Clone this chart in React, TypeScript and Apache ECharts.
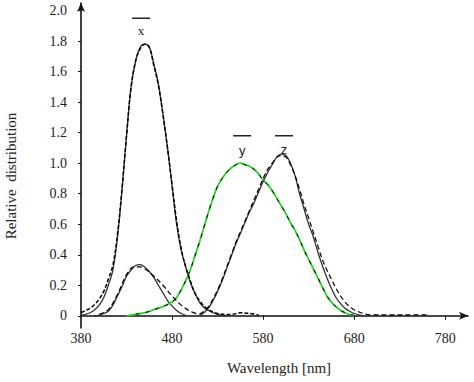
import React, { useEffect, useRef } from "react";
import * as echarts from "echarts";

// Tick values
const xTicks = [380, 480, 580, 680, 780];
const yTicks = [0, 0.2, 0.4, 0.6, 0.8, 1.0, 1.2, 1.4, 1.6, 1.8, 2.0];

// x-bar main lobe (solid) and its approximation (dashed)
const xMain = [[380,0.005],[385,0.01],[390,0.02],[395,0.04],[400,0.07],[405,0.12],[410,0.2],[415,0.3],[420,0.51],[425,0.82],[430,1.18],[435,1.5],[440,1.67],[445,1.76],[450,1.78],[455,1.76],[460,1.65],[465,1.52],[470,1.32],[475,1.1],[480,0.85],[485,0.6],[490,0.43],[495,0.32],[500,0.22],[505,0.15],[510,0.09],[515,0.055],[520,0.035],[525,0.02],[530,0.01],[540,0]];
const xMainFit = [[380,0.02],[385,0.035],[390,0.05],[395,0.075],[400,0.11],[405,0.16],[410,0.24],[415,0.33],[420,0.53],[425,0.83],[430,1.18],[435,1.5],[440,1.67],[445,1.75],[450,1.78],[455,1.76],[460,1.64],[465,1.51],[470,1.32],[475,1.1],[480,0.86],[485,0.62],[490,0.44],[495,0.32],[500,0.23],[505,0.15],[510,0.1],[515,0.065],[520,0.04],[530,0.015],[545,0.008],[555,0.02],[565,0.015],[575,0.005]];

// x-bar secondary lobe
const xSmall = [[395,0],[400,0.005],[405,0.015],[410,0.03],[415,0.07],[420,0.13],[425,0.19],[430,0.26],[435,0.3],[440,0.33],[445,0.335],[450,0.32],[455,0.29],[460,0.25],[465,0.2],[470,0.15],[475,0.1],[480,0.065],[485,0.035],[490,0.015],[496,0]];
const xSmallFit = [[400,0.01],[410,0.04],[420,0.14],[430,0.27],[438,0.32],[445,0.32],[452,0.3],[460,0.26],[470,0.2],[480,0.13],[490,0.07],[500,0.03],[510,0.008]];

// y-bar
const yBar = [[430,0],[440,0.01],[450,0.02],[460,0.04],[470,0.06],[480,0.09],[485,0.12],[490,0.17],[495,0.23],[500,0.3],[505,0.39],[510,0.48],[515,0.58],[520,0.68],[525,0.77],[530,0.85],[535,0.9],[540,0.94],[545,0.97],[550,0.99],[555,1.0],[560,0.99],[565,0.98],[570,0.96],[575,0.93],[580,0.89],[585,0.86],[590,0.82],[595,0.77],[600,0.72],[605,0.67],[610,0.61],[615,0.56],[620,0.5],[625,0.43],[630,0.37],[635,0.31],[640,0.25],[645,0.19],[650,0.13],[655,0.09],[660,0.06],[665,0.035],[670,0.02],[675,0.008],[680,0]];
const yBarFit = [[440,0.01],[450,0.02],[460,0.04],[470,0.06],[480,0.09],[485,0.12],[490,0.17],[495,0.23],[500,0.3],[505,0.39],[510,0.48],[515,0.58],[520,0.68],[525,0.77],[530,0.85],[535,0.9],[540,0.94],[545,0.97],[550,0.99],[555,1.0],[560,0.99],[565,0.98],[570,0.96],[575,0.93],[580,0.89],[585,0.86],[590,0.82],[595,0.77],[600,0.72],[605,0.67],[610,0.61],[615,0.56],[620,0.5],[625,0.43],[630,0.37],[635,0.31],[640,0.25],[645,0.19],[650,0.13],[655,0.09],[660,0.06],[665,0.035],[670,0.02],[675,0.01],[680,0.004]];

// z-bar
const zBar = [[510,0],[515,0.02],[520,0.05],[525,0.1],[530,0.16],[535,0.23],[540,0.31],[545,0.39],[550,0.47],[555,0.54],[560,0.61],[565,0.68],[570,0.74],[575,0.81],[580,0.88],[585,0.94],[590,0.99],[595,1.04],[600,1.06],[605,1.05],[610,1.0],[615,0.92],[620,0.8],[625,0.7],[630,0.6],[635,0.52],[640,0.42],[645,0.33],[650,0.25],[655,0.18],[660,0.12],[665,0.08],[670,0.05],[675,0.03],[680,0.015],[690,0]];
const zBarFit = [[510,0.01],[515,0.03],[520,0.06],[525,0.11],[530,0.17],[535,0.24],[540,0.32],[545,0.4],[550,0.48],[555,0.55],[560,0.62],[565,0.69],[570,0.76],[575,0.83],[580,0.9],[585,0.96],[590,1.0],[595,1.04],[600,1.05],[605,1.04],[610,0.99],[615,0.92],[620,0.83],[625,0.73],[630,0.64],[635,0.55],[640,0.46],[645,0.37],[650,0.3],[655,0.24],[660,0.18],[665,0.13],[670,0.09],[675,0.06],[680,0.04],[690,0.015],[700,0.006],[720,0.006],[740,0.006],[760,0.006]];

// curve labels (letter position and overbar height, in data units)
const labelNames = ["x", "y", "z"];
const labelPos = [[446, 1.87], [557, 1.085], [603, 1.09]];
const barPos = [[446, 1.95], [557, 1.18], [603, 1.18]];

const solid = (data: number[][], color = "#333", width = 1.3) => ({
  type: "line", data, smooth: 0.35, showSymbol: false, symbol: "none",
  lineStyle: { color, width }, z: 2,
});
const dashed = (data: number[][], width = 1.5, dash: number[] = [4, 2]) => ({
  type: "line", data, smooth: 0.35, showSymbol: false, symbol: "none",
  lineStyle: { color: "#000", width, type: dash }, z: 3,
});

export default function App() {
  const ref = useRef<HTMLDivElement>(null);
  useEffect(() => {
    if (!ref.current) return;
    const chart = echarts.init(ref.current, undefined, { renderer: "svg" });
    const serif = "'Liberation Serif', 'Times New Roman', serif";
    chart.setOption({
      animation: false,
      backgroundColor: "#fff",
      textStyle: { fontFamily: serif },
      grid: { left: 81, right: 6, top: 3, bottom: 54 },
      xAxis: {
        type: "value", min: 380, max: 805,
        axisLine: { show: true, onZero: true, lineStyle: { color: "#111", width: 1.6 }, symbol: ["none", "arrow"], symbolSize: [6, 9] },
        axisTick: { show: true, customValues: xTicks.slice(1), length: 4, lineStyle: { color: "#111" } },
        axisLabel: { customValues: xTicks, fontFamily: serif, fontSize: 14, color: "#222", margin: 3 },
        splitLine: { show: false },
      },
      yAxis: {
        type: "value", min: -0.08, max: 2.05,
        axisLine: { show: true, lineStyle: { color: "#111", width: 1.6 }, symbol: ["none", "arrow"], symbolSize: [6, 9] },
        axisTick: { show: true, customValues: yTicks, length: 3, lineStyle: { color: "#111" } },
        axisLabel: {
          customValues: yTicks, fontFamily: serif, fontSize: 14, color: "#222", margin: 14,
          formatter: (v: number) => (Math.abs(v) < 1e-9 ? "0" : v.toFixed(1)),
        },
        splitLine: { show: false },
      },
      series: [
        solid(xMain), dashed(xMainFit),
        solid(xSmall), dashed(xSmallFit, 1.2, [5, 3]),
        solid(yBar, "#2bd42b", 1.8), dashed(yBarFit, 1.0, [4, 6]),
        solid(zBar), dashed(zBarFit, 1.2, [5, 3]),
      ],
    });
    const graphics: any[] = [
      {
        type: "text", x: 11, y: 176, rotation: Math.PI / 2,
        style: { text: "Relative  distribution", fontFamily: serif, fontSize: 15, fill: "#222", align: "center", verticalAlign: "middle" },
      },
      {
        type: "text", x: 279, y: 368,
        style: { text: "Wavelength [nm]", fontFamily: serif, fontSize: 15, fill: "#222", align: "center", verticalAlign: "middle" },
      },
    ];
    labelNames.forEach((name, i) => {
      const p = chart.convertToPixel({ gridIndex: 0 }, labelPos[i]) as number[];
      const b = chart.convertToPixel({ gridIndex: 0 }, barPos[i]) as number[];
      graphics.push({
        type: "text", x: p[0], y: p[1],
        style: { text: name, fontFamily: name === "x" ? serif : "Liberation Sans", fontSize: 13, fill: "#222", align: "center", verticalAlign: "middle" },
      });
      graphics.push({
        type: "line", shape: { x1: b[0] - 9, y1: b[1], x2: b[0] + 9, y2: b[1] },
        style: { stroke: "#222", lineWidth: 1.5 },
      });
    });
    chart.setOption({ graphic: graphics });
    return () => chart.dispose();
  }, []);
  return <div ref={ref} style={{ position: "fixed", left: 0, top: 0, width: 474, height: 382, background: "#fff" }} />;
}
